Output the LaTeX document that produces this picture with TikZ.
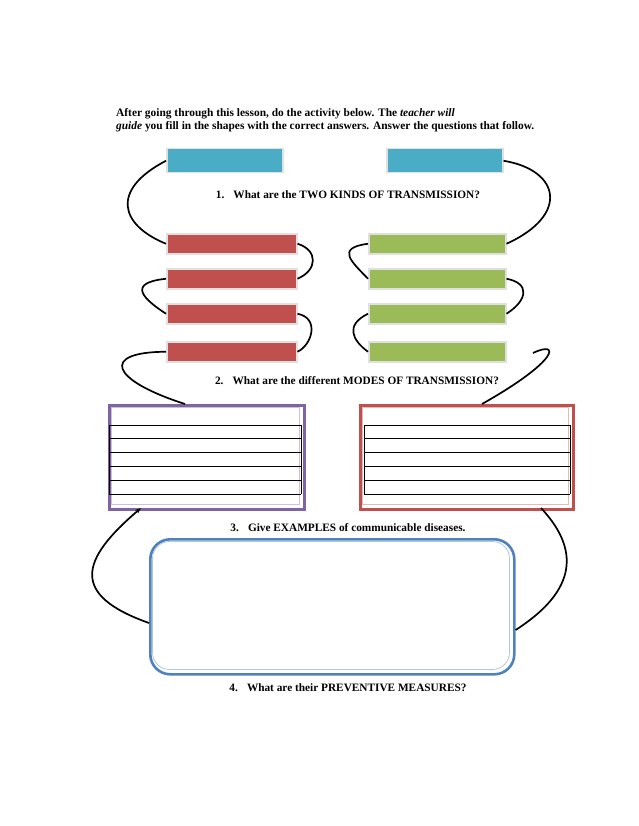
\documentclass[tikz,border=0pt]{standalone}
\usepackage{fontspec}
\setmainfont{Liberation Serif}
\usetikzlibrary{arrows.meta}
\definecolor{cblue}{HTML}{4BACC6}
\definecolor{cred}{HTML}{C0504D}
\definecolor{cgreen}{HTML}{9BBB59}
\definecolor{cpurple}{HTML}{8064A2}
\definecolor{cdblue}{HTML}{4F81BD}
\begin{document}
\begin{tikzpicture}[x=1pt,y=-1pt,
  bar/.style={draw=black!12,line width=1.5pt,inner sep=0pt,anchor=north west},
  conn/.style={line width=1.7pt,black},
  q/.style={font=\bfseries\fontsize{11.3}{13}\selectfont,inner sep=0pt}]
\useasboundingbox (0,0) rectangle (638,826);
\node[anchor=north west,align=left,inner sep=0pt,font=\bfseries\fontsize{11.4}{13.5}\selectfont] (hdr) at (116,108)
 {After going through this lesson, do the activity below. The \textit{teacher will}\\
  \textit{guide} you fill in the shapes with the correct answers. Answer the questions that follow.};
% blue
\node[bar,fill=cblue,minimum width=116pt,minimum height=24pt] (b1) at (166,148) {};
\node[bar,fill=cblue,minimum width=116pt,minimum height=24pt] (b2) at (386,148) {};
\node[q] (q1) at (348,195) {1.\hspace{0.8em}What are the TWO KINDS OF TRANSMISSION?};
% red
\foreach \i/\y in {1/233,2/268,3/303,4/341}{
 \node[bar,fill=cred,minimum width=130pt,minimum height=20pt] (r\i) at (166,\y) {};
 \node[bar,fill=cgreen,minimum width=137pt,minimum height=20pt] (g\i) at (368,\y) {};}
\node[q] (q2) at (357,381) {2.\hspace{0.8em}What are the different MODES OF TRANSMISSION?};
% lined boxes
\node[draw=cpurple,line width=3pt,minimum width=195pt,minimum height=104pt,anchor=north west,inner sep=0pt] (pb) at (108,404) {};
\node[draw=cred,line width=3pt,minimum width=213pt,minimum height=104pt,anchor=north west,inner sep=0pt] (rb) at (359,404) {};
\draw[cpurple!40,line width=0.8pt] (111.5,407.5) rectangle (299.5,504.5);
\draw[cred!40,line width=0.8pt] (362.5,407.5) rectangle (568.5,504.5);
\foreach \y in {425,438,452,466,480,494}{
 \draw[line width=0.8pt] (109,\y) -- (301,\y);
 \draw[line width=0.8pt] (364,\y) -- (570,\y);}
\draw[line width=0.8pt] (109,425) -- (109,494) (301,425)--(301,494) (364,425)--(364,494) (570,425)--(570,494);
\node[q] (q3) at (348,528) {3.\hspace{0.8em}Give EXAMPLES of communicable diseases.};
\node[draw=cdblue,line width=2.6pt,rounded corners=20pt,minimum width=364pt,minimum height=135pt,anchor=north west,inner sep=0pt] (bb) at (149,538) {};
\draw[cdblue!45,line width=0.8pt,rounded corners=17pt] (152.5,541.5) rectangle (509.5,669.5);
\node[q] (q4) at (348,688) {4.\hspace{0.8em}What are their PREVENTIVE MEASURES?};
% connectors
\draw[conn] (b1.west) .. controls (110,190) and (120,225) .. (r1.west);
\draw[conn] (b2.east) .. controls (560,170) and (570,215) .. (g1.east);
\draw[conn] (r1.east) .. controls (318,250) and (318,270) .. (r2.east);
\draw[conn] (r2.west) .. controls (125,283) and (145,300) .. (r3.west);
\draw[conn] (r3.east) .. controls (320,318) and (312,345) .. (r4.east);
\draw[conn] (r4.west) .. controls (100,352) and (110,380) .. (pb.north-|185,0);
\draw[conn] (g1.west) .. controls (335,248) and (352,262) .. (g2.west);
\draw[conn] (g2.east) .. controls (530,283) and (528,300) .. (g3.east);
\draw[conn] (g3.west) .. controls (345,325) and (352,340) .. (g4.west);
\coordinate (gs) at (533,353);
\draw[conn] (gs) .. controls (560,340) and (560,360) .. (482,404);
\draw[conn,-{Stealth[length=6pt]}] (bb.west|-0,623) .. controls (70,595) and (80,560) .. (141,508);
\draw[conn] (541,508) .. controls (585,555) and (570,595) .. (bb.east|-0,630);
\end{tikzpicture}
\end{document}
